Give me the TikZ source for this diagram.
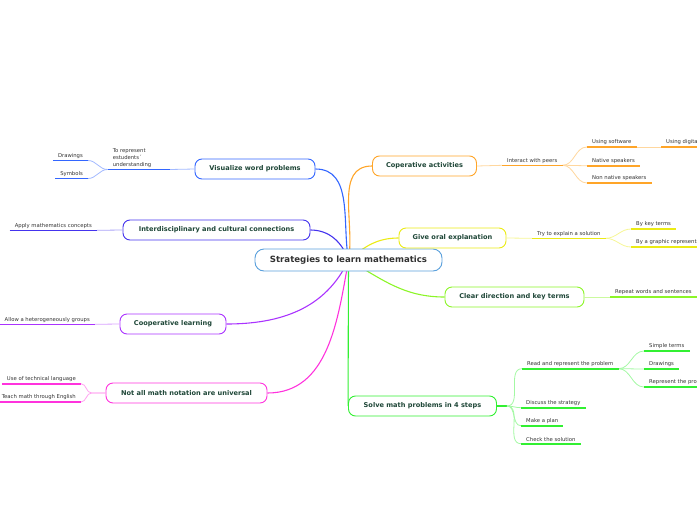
\documentclass[tikz,border=0pt]{standalone}
\usepackage{fontspec}
\setmainfont{DejaVu Sans}
\usetikzlibrary{positioning}
\definecolor{Map-root}{RGB}{90,160,220}
\definecolor{Map-blue}{RGB}{51,102,255}
\definecolor{Map-indigo}{RGB}{68,51,238}
\definecolor{Map-purple}{RGB}{170,51,255}
\definecolor{Map-magenta}{RGB}{255,51,221}
\definecolor{Map-orange}{RGB}{255,165,40}
\definecolor{Map-yellow}{RGB}{235,235,20}
\definecolor{Map-lime}{RGB}{140,245,40}
\definecolor{Map-green}{RGB}{50,240,50}
\definecolor{Map-title}{RGB}{30,70,55}
\definecolor{Map-text}{RGB}{50,50,50}
\pgfdeclarelayer{background}
\pgfsetlayers{background,main}

\begin{document}
\begin{tikzpicture}[x=1pt,y=-1pt]
      \tikzset{ root/.style ={draw=Map-root, line width=0.9pt, rounded corners=9pt, fill=white, minimum width=187pt, minimum height=22pt, text=Map-text, font=\bfseries\fontsize{8.6}{10}\selectfont} }
      \tikzset{ topic/.style={draw=#1, line width=0.9pt, rounded corners=7pt, fill=white, minimum height=20pt, inner xsep=8pt, text=Map-title, font=\bfseries\fontsize{6.6}{8}\selectfont} }
      \tikzset{ leaf/.style ={inner xsep=5pt, inner ysep=1.8pt, text=Map-text, font=\fontsize{5.3}{7}\selectfont} }
      \tikzset{ trunk/.style={draw=#1, line width=1.1pt} }
      \tikzset{ twig/.style ={draw=#1!45, line width=0.8pt} }
      \tikzset{ ul/.style   ={draw=#1, line width=1.6pt} }

      \useasboundingbox (0,0) rectangle (697,520);

      \node[root] (root) at (348.5,260) {Strategies to learn mathematics};

      % left side
      \node[topic=Map-blue,    minimum width=120pt] (vis)    at (255.0,169) {Visualize word problems};
      \node[topic=Map-indigo,  minimum width=187pt] (inter)  at (216.5,230) {Interdisciplinary and cultural connections};
      \node[topic=Map-purple,  minimum width=106pt] (coopl)  at (173.0,324) {Cooperative learning};
      \node[topic=Map-magenta, minimum width=161pt] (notall) at (186.5,393) {Not all math notation are universal};

      % right side
      \node[topic=Map-orange,  minimum width=104pt] (coopa)  at (424.5,166) {Coperative activities};
      \node[topic=Map-yellow,  minimum width=107pt] (oral)   at (452.5,238) {Give oral explanation};
      \node[topic=Map-lime,    minimum width=139pt] (clear)  at (514.5,297) {Clear direction and key terms};
      \node[topic=Map-green,   minimum width=148pt] (solve)  at (422.5,406) {Solve math problems in 4 steps};

      \begin{pgfonlayer}{background}
        \draw[trunk=Map-blue   ] (root.center) to[out=100,in=0]   (vis.east);
        \draw[trunk=Map-indigo ] (root.center) to[out=110,in=0]   (inter.east);
        \draw[trunk=Map-purple ] (root.center) to[out=-115,in=0]  (coopl.east);
        \draw[trunk=Map-magenta] (root.center) to[out=-100,in=0]  (notall.east);
        \draw[trunk=Map-orange ] (root.center) to[out=80,in=180]  (coopa.west);
        \draw[trunk=Map-yellow ] (root.center) to[out=40,in=180]  (oral.west);
        \draw[trunk=Map-lime   ] (root.center) to[out=-30,in=180] (clear.west);
        \draw[trunk=Map-green  ] (root.center) -- (solve.west);
      \end{pgfonlayer}

      % Visualize word problems
      \node[leaf, anchor=south east, text width=52pt, align=left] (estud) at (170,169.5) {To represent\\estudents´\\understanding};
      \node[leaf, anchor=south east] (vdraw) at (88,160.5) {Drawings};
      \node[leaf, anchor=south east] (vsymb) at (88,178.5) {Symbols};

      \draw[twig=Map-blue] (vis.west) -- (estud.south east);
      \draw[twig=Map-blue] (estud.south west) to[out=180,in=0] (vdraw.south east);
      \draw[twig=Map-blue] (estud.south west) to[out=180,in=0] (vsymb.south east);
      \draw[ul=Map-blue] (estud.south west) -- (estud.south east);
      \draw[ul=Map-blue] (vdraw.south west) -- (vdraw.south east);
      \draw[ul=Map-blue] (vsymb.south west) -- (vsymb.south east);

      % Interdisciplinary and cultural connections
      \node[leaf, anchor=south east] (apply) at (97,230.3) {Apply mathematics concepts};

      \draw[twig=Map-indigo] (inter.west) -- (apply.south east);
      \draw[ul=Map-indigo] (apply.south west) -- (apply.south east);

      % Cooperative learning
      \node[leaf, anchor=south east] (allow) at (95,324.3) {Allow a heterogeneously groups};

      \draw[twig=Map-purple] (coopl.west) -- (allow.south east);
      \draw[ul=Map-purple] (allow.south west) -- (allow.south east);

      % Not all math notation are universal
      \node[leaf, anchor=south east] (techl) at (81,383.7) {Use of technical language};
      \node[leaf, anchor=south east] (teach) at (81,402.0) {Teach math through English};

      \draw[twig=Map-magenta] (notall.west) -- ++(-14,0) to[out=180,in=0] (techl.south east);
      \draw[twig=Map-magenta] (notall.west) -- ++(-14,0) to[out=180,in=0] (teach.south east);
      \draw[ul=Map-magenta] (techl.south west) -- (techl.south east);
      \draw[ul=Map-magenta] (teach.south west) -- (teach.south east);

      % Coperative activities
      \node[leaf, anchor=south west] (peers)  at (502,165.3) {Interact with peers};
      \node[leaf, anchor=south west] (softw)  at (587,147.0) {Using software};
      \node[leaf, anchor=south west] (digit)  at (661,147.0) {Using digital};
      \node[leaf, anchor=south west] (native) at (587,165.7) {Native speakers};
      \node[leaf, anchor=south west] (nonnat) at (587,183.0) {Non native speakers};

      \draw[twig=Map-orange] (coopa.east) -- (peers.south west);
      \draw[twig=Map-orange] (peers.south east) to[out=0,in=180] (softw.south west);
      \draw[twig=Map-orange] (peers.south east) to[out=0,in=180] (native.south west);
      \draw[twig=Map-orange] (peers.south east) to[out=0,in=180] (nonnat.south west);
      \draw[twig=Map-orange] (softw.south east) -- (digit.south west);
      \draw[ul=Map-orange] (peers.south west)  -- (peers.south east);
      \draw[ul=Map-orange] (softw.south west)  -- (softw.south east);
      \draw[ul=Map-orange] (digit.south west)  -- ++(36,0);
      \draw[ul=Map-orange] (native.south west) -- (native.south east);
      \draw[ul=Map-orange] (nonnat.south west) -- (nonnat.south east);

      % Give oral explanation
      \node[leaf, anchor=south west] (explain) at (532,238.3) {Try to explain a solution};
      \node[leaf, anchor=south west] (keyterm) at (631,229.0) {By key terms};
      \node[leaf, anchor=south west] (graphic) at (631,247.0) {By a graphic representation};

      \draw[twig=Map-yellow] (oral.east) -- (explain.south west);
      \draw[twig=Map-yellow] (explain.south east) to[out=0,in=180] (keyterm.south west);
      \draw[twig=Map-yellow] (explain.south east) to[out=0,in=180] (graphic.south west);
      \draw[ul=Map-yellow] (explain.south west) -- (explain.south east);
      \draw[ul=Map-yellow] (keyterm.south west) -- (keyterm.south east);
      \draw[ul=Map-yellow] (graphic.south west) -- ++(66,0);

      % Clear direction and key terms
      \node[leaf, anchor=south west] (repeat) at (610,297.0) {Repeat words and sentences};

      \draw[twig=Map-lime] (clear.east) -- (repeat.south west);
      \draw[ul=Map-lime] (repeat.south west) -- ++(87,0);

      % Solve math problems in 4 steps
      \node[leaf, anchor=south west] (readp)   at (522,368.7) {Read and represent the problem};
      \node[leaf, anchor=south west] (simple)  at (644,351.0) {Simple terms};
      \node[leaf, anchor=south west] (sdraw)   at (644,369.0) {Drawings};
      \node[leaf, anchor=south west] (reppro)  at (644,387.0) {Represent the problem};
      \node[leaf, anchor=south west] (discuss) at (521,407.7) {Discuss the strategy};
      \node[leaf, anchor=south west] (plan)    at (521,425.7) {Make a plan};
      \node[leaf, anchor=south west] (check)   at (521,443.7) {Check the solution};

      \draw[ul=Map-green] (solve.east) -- ++(10,0);
      \draw[twig=Map-green] (solve.east) ++(10,0) to[out=0,in=180] (readp.south west);
      \draw[twig=Map-green] (solve.east) ++(10,0) to[out=0,in=180] (discuss.south west);
      \draw[twig=Map-green] (solve.east) ++(10,0) to[out=0,in=180] (plan.south west);
      \draw[twig=Map-green] (solve.east) ++(10,0) to[out=0,in=180] (check.south west);
      \draw[twig=Map-green] (readp.south east) to[out=0,in=180] (simple.south west);
      \draw[twig=Map-green] (readp.south east) to[out=0,in=180] (sdraw.south west);
      \draw[twig=Map-green] (readp.south east) to[out=0,in=180] (reppro.south west);
      \draw[ul=Map-green] (readp.south west)   -- (readp.south east);
      \draw[ul=Map-green] (simple.south west)  -- (simple.south east);
      \draw[ul=Map-green] (sdraw.south west)   -- (sdraw.south east);
      \draw[ul=Map-green] (reppro.south west)  -- ++(53,0);
      \draw[ul=Map-green] (discuss.south west) -- (discuss.south east);
      \draw[ul=Map-green] (plan.south west)    -- (plan.south east);
      \draw[ul=Map-green] (check.south west)   -- (check.south east);
\end{tikzpicture}
\end{document}
